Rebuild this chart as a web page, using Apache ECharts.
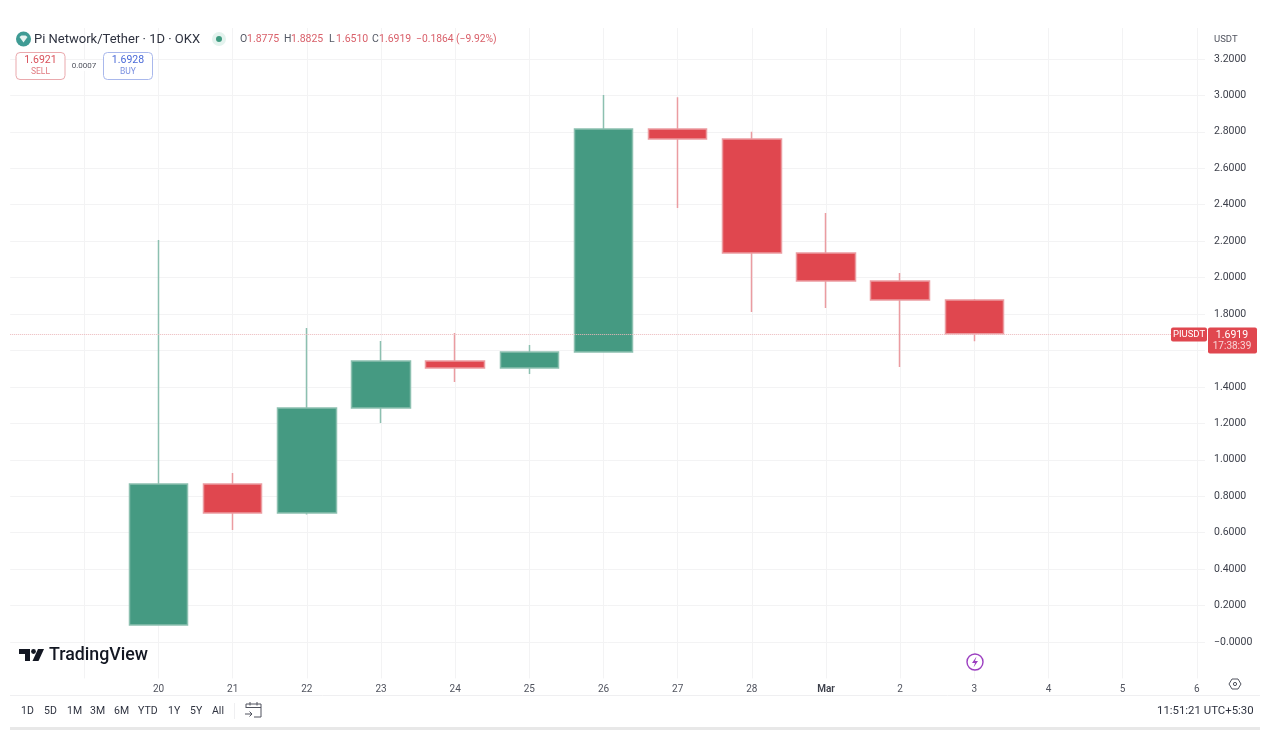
<!DOCTYPE html>
<html><head><meta charset="utf-8">
<style>html,body{margin:0;padding:0;background:#fff}#c{width:1280px;height:755px}</style>
<script src="https://cdn.jsdelivr.net/npm/echarts@6/dist/echarts.min.js"></script></head>
<body><div id="c"></div>
<script>
const dayLabels = ['20','21','22','23','24','25','26','27','28','Mar','2','3','4','5','6'];
const opens  = [0.093,0.867,0.708,1.284,1.542,1.504,1.592,2.816,2.761,2.135,1.981,1.8775];
const closes = [0.867,0.708,1.284,1.542,1.504,1.592,2.816,2.761,2.135,1.981,1.8775,1.6919];
const lows   = [0.093,0.615,0.700,1.202,1.427,1.471,1.592,2.382,1.811,1.833,1.509,1.651];
const highs  = [2.206,0.927,1.723,1.652,1.696,1.630,3.002,2.990,2.800,2.355,2.025,1.8825];
const lastPrice = 1.6919;
const UP = '#459a82', DOWN = '#e0474f';
const UP_EDGE = '#8cc0b0', DOWN_EDGE = '#eb9ca1';
const FONT = 'Roboto, "Open Sans", sans-serif';
const candles = opens.map((o,i)=>[i,o,closes[i],lows[i],highs[i]]);
const T = (x,y,text,size,fill,extra)=>({type:'text',x,y,z:100,silent:true,style:Object.assign({text,fontSize:size,fill,fontFamily:FONT,textVerticalAlign:'middle'},extra||{})});
const R = (x,y,w,h,r,stroke,fill)=>({type:'rect',z:99,silent:true,shape:{x,y,width:w,height:h,r},style:{stroke:stroke||null,fill:fill||'transparent',lineWidth:1}});
const C = (cx,cy,r,fill,stroke,lw)=>({type:'circle',z:99,silent:true,shape:{cx,cy,r},style:{fill:fill||'transparent',stroke:stroke||null,lineWidth:lw||1}});
const P = (pts,fill,stroke,lw,closed)=>({type:closed===false?'polyline':'polygon',z:100,silent:true,shape:{points:pts},style:{fill:closed===false?'transparent':(fill||'transparent'),stroke:stroke||null,lineWidth:lw||1}});
const L = (x1,y1,x2,y2,c,w)=>({type:'line',z:100,silent:true,shape:{x1,y1,x2,y2},style:{stroke:c,lineWidth:w||1}});

const graphics = [
  // legend header
  C(23.5,39,7.5,'#3f9b94'), P([[19.5,37],[21.5,35.5],[25.5,35.5],[27.5,37],[23.5,42.5]],'#e6f4f1'),
  T(34,39.5,'Pi Network/Tether · 1D · OKX',13,'#2f3340'),
  C(219,39,7,'#e4f3ee'), C(219,39,3,'#3f9b80'),
  T(240,39.5,'O',10.5,'#555a66'),T(247,39.5,'1.8775',10.5,'#d9606a'),
  T(284,39.5,'H',10.5,'#555a66'),T(291,39.5,'1.8825',10.5,'#d9606a'),
  T(329,39.5,'L',10.5,'#555a66'),T(336,39.5,'1.6510',10.5,'#d9606a'),
  T(372,39.5,'C',10.5,'#555a66'),T(379,39.5,'1.6919',10.5,'#d9606a'),
  T(416,39.5,'−0.1864 (−9.92%)',10.3,'#d9606a'),
  // sell / buy
  R(16,52.5,49,27,4,'#eaa9ad','#fff'), T(40.5,60.5,'1.6921',10.5,'#d9505a',{textAlign:'center'}), T(40.5,72,'SELL',8.5,'#e07a80',{textAlign:'center'}),
  R(68,60,32,11,0,null,'#fff'), T(84,65.5,'0.0007',8,'#50535e',{textAlign:'center'}),
  R(103.5,52.5,49,27,4,'#a9b8ec','#fff'), T(128,60.5,'1.6928',10.5,'#4a6ad8',{textAlign:'center'}), T(128,72,'BUY',8.5,'#7a90e0',{textAlign:'center'}),
  // USDT
  T(1214,40,'USDT',9.5,'#50535e'),
  // last-price tags
  R(1171,327.5,36,14,2,null,DOWN), T(1189,335,'PIUSDT',9.5,'#fff',{textAlign:'center'}),
  R(1208,327.5,49,26,2,null,DOWN), T(1232,335,'1.6919',10.5,'#fff',{textAlign:'center'}), T(1232,346,'17:38:39',10,'#f8d5d7',{textAlign:'center'}),
  // TradingView logo
  P([[19,649],[30,649],[30,661],[25,661],[25,654],[19,654]],'#131722'),
  C(33.5,651.5,2.4,'#131722'),
  P([[38,649],[44,649],[38.5,661],[32.5,661]],'#131722'),
  T(49,656,'TradingView',17.8,'#131722',{fontWeight:500}),
  // lightning marker
  C(975,662,8,'#fff','#9c3fc0',1.4),
  P([[976.5,656.5],[972,663],[975,663],[973.5,667.5],[978,661],[975,661]],'#9c3fc0'),
  // settings icon
  P([[1229,684],[1232,679],[1238,679],[1241,684],[1238,689],[1232,689]],null,'#50535e',1),
  C(1235,684,1.6,null,'#50535e',1),
  // separators
  L(10,695.5,1260,695.5,'#efeff1',1),
  {type:'rect',z:99,silent:true,shape:{x:10,y:727,width:1250,height:3},style:{fill:'#e8e8e8'}},
  // range buttons
  T(21,711,'1D',10.5,'#2f3340'),T(44,711,'5D',10.5,'#2f3340'),T(67,711,'1M',10.5,'#2f3340'),
  T(90,711,'3M',10.5,'#2f3340'),T(114,711,'6M',10.5,'#2f3340'),T(138,711,'YTD',10.5,'#2f3340'),
  T(168,711,'1Y',10.5,'#2f3340'),T(190,711,'5Y',10.5,'#2f3340'),T(212,711,'All',10.5,'#2f3340'),
  L(234.5,703,234.5,719,'#efeff1',1),
  // calendar icon
  P([[246,708],[246,704],[261,704],[261,717],[254,717]],null,'#50535e',1,false),
  L(246,707.5,261,707.5,'#50535e',1), L(250,702,250,705.5,'#50535e',1), L(257,702,257,705.5,'#50535e',1),
  L(245,714,252,714,'#50535e',1), P([[249.5,711.5],[252,714],[249.5,716.5]],null,'#50535e',1,false),
  T(1157,711,'11:51:21 UTC+5:30',11.4,'#2f3340')
];

const chart = echarts.init(document.getElementById('c'),null,{renderer:'canvas'});
chart.setOption({
  animation:false, backgroundColor:'#fff',
  grid:{left:10.2,right:75,top:28,bottom:76.6,containLabel:false},
  xAxis:{type:'value',min:-2,max:14.11,interval:1,
    axisLine:{show:false},axisTick:{show:false},
    axisLabel:{margin:6,fontSize:10,color:'#50535e',fontFamily:FONT,showMinLabel:false,showMaxLabel:false,
      formatter:v=>{const s=Number.isInteger(v)&&dayLabels[v]!==undefined?dayLabels[v]:'';return s==='Mar'?'{b|Mar}':s;},
      rich:{b:{fontSize:10,fontWeight:600,color:'#3c3f4a',fontFamily:FONT}}},
    splitLine:{show:true,showMinLine:false,showMaxLine:false,lineStyle:{color:'#f3f3f4',width:1}}},
  yAxis:{type:'value',position:'right',min:-0.2,max:3.37,interval:0.2,
    axisLine:{show:false},axisTick:{show:false},
    axisLabel:{margin:9,fontSize:10.5,color:'#3c3f4a',fontFamily:FONT,showMinLabel:false,showMaxLabel:false,
      formatter:v=>Math.abs(v)<1e-9?'−0.0000':v.toFixed(4)},
    splitLine:{show:true,showMinLine:false,showMaxLine:false,lineStyle:{color:'#f3f3f4',width:1}}},
  series:[{type:'candlestick',data:candles,encode:{x:0,y:[1,2,3,4]},barWidth:59,clip:true,
    itemStyle:{color:UP,color0:DOWN,borderColor:UP_EDGE,borderColor0:DOWN_EDGE,borderWidth:1.5},
    markLine:{silent:true,symbol:'none',label:{show:false},animation:false,
      lineStyle:{color:'#ecb9bc',type:'dotted',width:1},data:[{yAxis:lastPrice}]}}],
  graphic:{elements:graphics}
});
</script></body></html>
